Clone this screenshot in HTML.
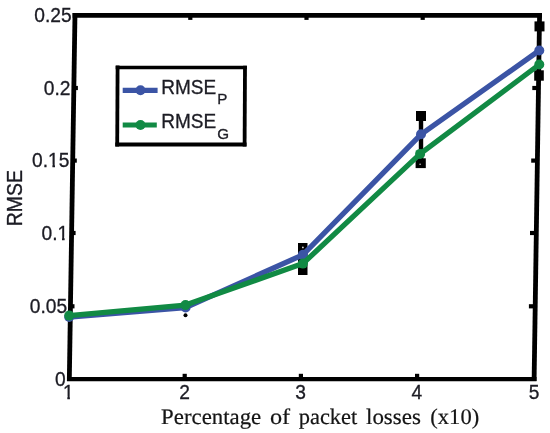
<!DOCTYPE html>
<html><head><meta charset="utf-8"><title>RMSE</title>
<style>
html,body{margin:0;padding:0;background:#fff;}
body{width:550px;height:433px;overflow:hidden;}
svg{display:block;}
.s{font-family:"Liberation Sans",Arial,sans-serif;fill:#1c1c24;stroke:#1c1c24;stroke-width:0.3px;}
.t{font-family:"Liberation Serif","Times New Roman",serif;fill:#151515;stroke:#151515;stroke-width:0.2px;text-rendering:geometricPrecision;}
</style></head><body>
<svg width="550" height="433" viewBox="0 0 550 433">
<rect width="550" height="433" fill="#fff"/>
<defs>
<clipPath id="c1"><rect x="-12" y="-22" width="24" height="19.4"/><rect x="-0.95" y="-2.8" width="2.55" height="4"/></clipPath>
<clipPath id="c015"><rect x="-60" y="-22" width="65" height="19.4"/><rect x="-60" y="-2.8" width="38.7" height="5"/><rect x="-16.95" y="-2.8" width="2.55" height="5"/><rect x="-11.3" y="-2.8" width="16" height="5"/></clipPath>
<clipPath id="c01"><rect x="-60" y="-22" width="65" height="19.4"/><rect x="-60" y="-2.8" width="49.4" height="5"/><rect x="-6.27" y="-2.8" width="2.55" height="5"/></clipPath>
</defs>

<g fill="none" stroke="#000">
<line x1="72.6" y1="15.3" x2="542" y2="15.3" stroke-width="4.8"/>
<line x1="67" y1="379.1" x2="536.5" y2="379.1" stroke-width="4.4"/>
<line x1="75" y1="13" x2="69.3" y2="381" stroke-width="4.8"/>
<line x1="539.6" y1="13" x2="534.1" y2="381" stroke-width="4.8"/>
</g>
<g stroke="#000" stroke-width="4.2">
<line x1="184.7" y1="379" x2="184.7" y2="373.8"/>
<line x1="190.3" y1="15" x2="190.3" y2="19.9"/>
<line x1="300.9" y1="379" x2="300.9" y2="373.8"/>
<line x1="306.5" y1="15" x2="306.5" y2="19.9"/>
<line x1="417.1" y1="379" x2="417.1" y2="373.8"/>
<line x1="422.7" y1="15" x2="422.7" y2="19.9"/>
<line x1="70.4" y1="306.3" x2="74.5" y2="306.3"/>
<line x1="535.2" y1="306.3" x2="528.9" y2="306.3"/>
<line x1="71.5" y1="233.0" x2="75.6" y2="233.0"/>
<line x1="536.3" y1="233.0" x2="530.0" y2="233.0"/>
<line x1="72.7" y1="160.6" x2="76.8" y2="160.6"/>
<line x1="537.5" y1="160.6" x2="531.2" y2="160.6"/>
<line x1="73.8" y1="88.0" x2="77.9" y2="88.0"/>
<line x1="538.6" y1="88.0" x2="532.3" y2="88.0"/>
</g>
<g fill="#000">
<circle cx="185.5" cy="315.2" r="2"/>
<rect x="298" y="243" width="9.5" height="32"/>
<rect x="418.8" y="112" width="4.4" height="55"/>
<rect x="416" y="111" width="10" height="10"/>
<rect x="415.6" y="158.3" width="10.2" height="9.8"/>
<rect x="534.5" y="21.4" width="10" height="10"/>
<rect x="534.2" y="70.3" width="9.6" height="10.4"/>
</g>
<circle cx="302.9" cy="247.4" r="0.9" fill="#ddd"/>
<polyline points="69.2,317 185.6,307.5 302.9,254.8 421,134.3 539.3,50.5" fill="none" stroke="#3b54a5" stroke-width="5.3" stroke-linejoin="round" stroke-linecap="round"/>
<circle cx="69.2" cy="317" r="5" fill="#3b54a5"/>
<circle cx="185.6" cy="307.5" r="5" fill="#3b54a5"/>
<circle cx="302.9" cy="254.8" r="5" fill="#3b54a5"/>
<circle cx="421" cy="134.3" r="5" fill="#3b54a5"/>
<circle cx="539.3" cy="50.5" r="5" fill="#3b54a5"/>
<polyline points="69.2,315.6 185.5,305.1 302.9,263.6 420.1,153.9 539.3,64.5" fill="none" stroke="#118a44" stroke-width="5.3" stroke-linejoin="round" stroke-linecap="round"/>
<circle cx="69.2" cy="315.6" r="5" fill="#118a44"/>
<circle cx="185.5" cy="305.1" r="5" fill="#118a44"/>
<circle cx="302.9" cy="263.6" r="5" fill="#118a44"/>
<circle cx="420.1" cy="153.9" r="5" fill="#118a44"/>
<circle cx="539.3" cy="64.5" r="5" fill="#118a44"/>
<circle cx="420.1" cy="164.3" r="0.8" fill="#ccc"/>
<polygon points="117.6,67.5 245,67.5 244.6,144.5 117.2,144.5" fill="#fff"/>
<g stroke="#000" fill="none"><line x1="115.7" y1="67.55" x2="246.9" y2="67.55" stroke-width="3.6"/><line x1="115.3" y1="144.5" x2="246.5" y2="144.5" stroke-width="4.2"/><line x1="117.6" y1="65.6" x2="117.2" y2="146.6" stroke-width="3.8"/><line x1="245" y1="65.8" x2="244.6" y2="146.6" stroke-width="3.8"/></g>
<line x1="122.7" y1="90.3" x2="157.6" y2="90.3" stroke="#3b54a5" stroke-width="5.3"/><circle cx="140.5" cy="90.3" r="5" fill="#3b54a5"/>
<line x1="122.7" y1="125" x2="156.8" y2="125" stroke="#118a44" stroke-width="5.1"/><circle cx="140.5" cy="125" r="5" fill="#118a44"/>
<text class="s" font-size="19" text-anchor="start" transform="translate(161.3,93.6) scale(1,1.05)">RMSE</text><text class="s" font-size="15.2" text-anchor="start" transform="translate(217.3,103.8) scale(1,1.0)">P</text>
<text class="s" font-size="19" text-anchor="start" transform="translate(161.3,128.3) scale(1,1.05)">RMSE</text><text class="s" font-size="15.2" text-anchor="start" transform="translate(217.3,138.5) scale(1,1.0)">G</text>
<text class="s" font-size="19.2" text-anchor="end" transform="translate(71.6,22.4) scale(1,1.05)">0.25</text>
<text class="s" font-size="19.2" text-anchor="end" transform="translate(70.4,94.8) scale(1,1.05)">0.2</text>
<text class="s" font-size="19.2" text-anchor="end" clip-path="url(#c015)" transform="translate(69.4,167.3) scale(1,1.05)">0.15</text>
<text class="s" font-size="19.2" text-anchor="end" clip-path="url(#c01)" transform="translate(68.3,239.5) scale(1,1.05)">0.1</text>
<text class="s" font-size="19.2" text-anchor="end" transform="translate(67.2,313.2) scale(1,1.05)">0.05</text>
<text class="s" font-size="19.2" text-anchor="end" transform="translate(65.6,385.9) scale(1,1.05)">0</text>
<text class="s" font-size="19.2" text-anchor="middle" clip-path="url(#c1)" transform="translate(68.3,399.3) scale(1,1.05)">1</text>
<text class="s" font-size="19.2" text-anchor="middle" transform="translate(184.5,399.3) scale(1,1.05)">2</text>
<text class="s" font-size="19.2" text-anchor="middle" transform="translate(300.7,399.3) scale(1,1.05)">3</text>
<text class="s" font-size="19.2" text-anchor="middle" transform="translate(416.9,399.3) scale(1,1.05)">4</text>
<text class="s" font-size="19.2" text-anchor="middle" transform="translate(534.0,399.3) scale(1,1.05)">5</text>
<text class="s" font-size="19.5" text-anchor="middle" transform="translate(21.8,198.1) rotate(-90) scale(1,1.09)">RMSE</text>
<text class="t" y="423.6" font-size="22.2"><tspan x="161.1" textLength="100.1" lengthAdjust="spacingAndGlyphs">Percentage</tspan> <tspan x="270.0" textLength="20.2" lengthAdjust="spacingAndGlyphs">of</tspan> <tspan x="298.7" textLength="58.6" lengthAdjust="spacingAndGlyphs">packet</tspan> <tspan x="366.0" textLength="54.9" lengthAdjust="spacingAndGlyphs">losses</tspan> <tspan x="430.3" textLength="48.9" lengthAdjust="spacingAndGlyphs">(x10)</tspan></text>
</svg></body></html>
